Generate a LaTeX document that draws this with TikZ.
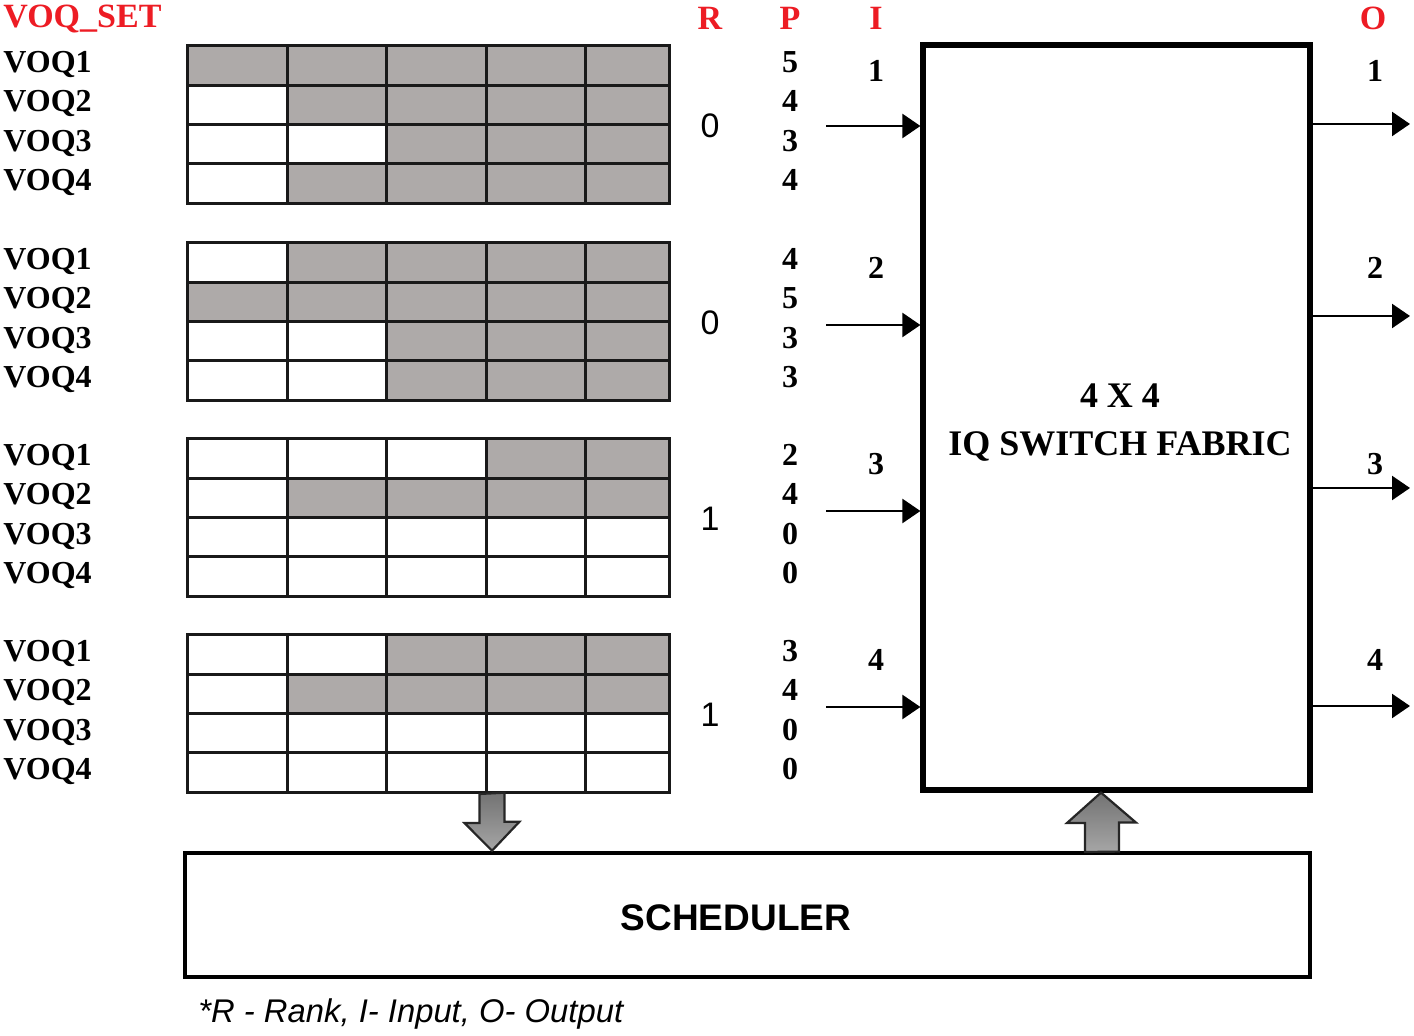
\documentclass[tikz,border=0pt]{standalone}
\usepackage{fontspec}
\setmainfont{Liberation Serif}
\setsansfont{Liberation Sans}
\definecolor{voqred}{RGB}{237, 28, 36}
\definecolor{cellgray}{RGB}{174, 170, 169}
\usetikzlibrary{arrows.meta, positioning, calc}

\begin{document}
\begin{tikzpicture}[x=0.5pt, y=-0.5pt,
    gridline/.style={line width=1.5pt, draw=black!90},
    head/.style={font=\fontsize{17}{17}\selectfont\bfseries, text=voqred, inner sep=0pt},
    lbl/.style={font=\fontsize{16}{16}\selectfont\bfseries, inner sep=0pt},
    rank/.style={font=\sffamily\fontsize{17}{17}\selectfont, inner sep=0pt},
    port/.style={line width=1.2pt, -{Triangle[length=9pt, width=12pt]}},
    blk/.style={draw=black!85, line width=1.1pt, top color=black!55, bottom color=black!35}]
  \useasboundingbox (0,0) rectangle (1414,1036);

  % column headings
  \node[head, anchor=base west] (hset) at (3,28) {VOQ\_SET};
  \node[head, anchor=base] (hr) at (710,30) {R};
  \node[head, anchor=base] (hp) at (790,30) {P};
  \node[head, anchor=base] (hi) at (876,30) {I};
  \node[head, anchor=base] (ho) at (1373,30) {O};

  % switch fabric and scheduler
  \node[draw, line width=2.6pt, minimum width=193.5pt, minimum height=372.5pt] (fabric) at (1116.5,417.5) {};
  \node[align=center, font=\fontsize{18}{24}\selectfont\bfseries, inner sep=0pt] (fabtxt) at (1120,423)
    {4 X 4\\IQ SWITCH FABRIC};
  \node[draw, line width=2.3pt, minimum width=562.5pt, minimum height=62pt] (sched) at (747.5,915) {};
  \node[font=\sffamily\fontsize{18.5}{18.5}\selectfont\bfseries, inner sep=0pt] (schedtxt) at (736,918) {SCHEDULER};

  % VOQ sets: top, P per VOQ, rank, input/output arrow heights
  \foreach \g/\T/\pa/\pb/\pc/\pd/\rk/\iy/\oy in
      {1/46/5/4/3/4/0/126/124, 2/243/4/5/3/3/0/325/316, 3/439/2/4/0/0/1/511/488, 4/635/3/4/0/0/1/707/706} {
    \foreach \r/\p in {1/\pa, 2/\pb, 3/\pc, 4/\pd} {
      \pgfmathsetmacro\xs{{187,287,386,486,585,669}[int(5-\p)]}
      \pgfmathsetmacro\ya{\T+(\r-1)*39.3}
      \pgfmathsetmacro\yb{\T+\r*39.3}
      \ifnum\p>0 \fill[cellgray] (\xs,\ya) rectangle (669,\yb); \fi
      \node[lbl, anchor=base west] (voq\g\r) at (3,\ya+26.7) {VOQ\r};
      \node[lbl, anchor=base] (p\g\r) at (790,\ya+26.7) {\p};
    }
    \draw[gridline] (187,\T) rectangle (669,\T+157.2);
    \foreach \r in {1,2,3} \draw[gridline] (187,\T+\r*39.3) -- (669,\T+\r*39.3);
    \foreach \x in {287,386,486,585} \draw[gridline] (\x,\T) -- (\x,\T+157.2);

    \node[rank] (r\g) at (710,\T+80) {\rk};
    \node[lbl] (i\g) at (876,\T+25) {\g};
    \node[lbl] (o\g) at (1375,\T+25) {\g};

    \coordinate (in\g) at (826,\iy);
    \coordinate (out\g) at (1410,\oy);
    \draw[port] (in\g) -- (in\g -| fabric.west);
    \draw[port] (out\g -| fabric.east) -- (out\g);
  }

  % block arrows
  \coordinate (qbot) at (492,792);
  \coordinate (up) at (1101,852);
  \draw[blk] ($(qbot)+(-12.5,2)$) -- ++(0,29) -- ++(-15,0) -- (qbot |- sched.north) -- ++(27.5,-29)
    -- ++(-15,0) -- ++(0,-29) -- cycle;
  \draw[blk] ($(up)+(-16,0)$) -- ++(0,-29) -- ++(-18,0) -- (up |- fabric.south) -- ++(35,30)
    -- ++(-17,0) -- ++(0,29) -- cycle;

  \node[font=\sffamily\itshape\fontsize{16.4}{16.4}\selectfont, inner sep=0pt, anchor=west] (note) at (198,1014)
    {*R - Rank, I- Input, O- Output};
\end{tikzpicture}
\end{document}
